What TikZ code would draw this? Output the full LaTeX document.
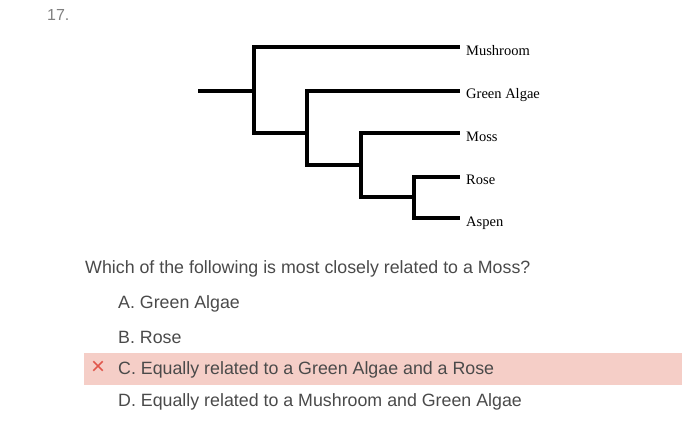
\documentclass[tikz,border=0pt]{standalone}
\usepackage{fontspec}
\setmainfont{Liberation Sans}
\newfontfamily\treefont{Liberation Serif}
\definecolor{txt}{HTML}{4A4A4A}
\definecolor{hl}{HTML}{F5CEC7}
\definecolor{xred}{HTML}{E0554A}
\begin{document}
\begin{tikzpicture}[x=1pt,y=-1pt,
  br/.style={line width=3.2pt,line cap=rect},
  lab/.style={anchor=west,font=\treefont\fontsize{14.5}{16}\selectfont,inner sep=0pt},
  q/.style={anchor=west,font=\fontsize{17.8}{20}\selectfont,text=txt,inner sep=0pt}]
\useasboundingbox (0,0) rectangle (682,438);
% tree
\coordinate (root) at (200,91);
\coordinate (n1) at (254,91);
\node[lab] (mush) at (466,51) {Mushroom};
\node[lab] (alg) at (466,95) {Green Algae};
\node[lab] (moss) at (466,137) {Moss};
\node[lab] (rose) at (466,180) {Rose};
\node[lab] (asp) at (466,223) {Aspen};
\draw[br] (root) -- (n1);
\draw[br] (458,47) -- (254,47) -- (254,133) -- (307,133);
\draw[br] (458,91) -- (307,91) -- (307,165) -- (361,165);
\draw[br] (458,133) -- (361,133) -- (361,197) -- (414,197);
\draw[br] (458,177) -- (414,177) -- (414,218) -- (458,218);
% question
\node[anchor=west,font=\fontsize{16}{18}\selectfont,text=gray,inner sep=0pt] (num) at (47,15) {17.};
\node[q] (qq) at (85,269) {Which of the following is most closely related to a Moss?};
\node[q] (a) at (118,304) {A. Green Algae};
\node[q] (b) at (118,337) {B. Rose};
\fill[hl] (84,353) rectangle (682,385);
\node[q,text=xred,font=\fontsize{24}{24}\selectfont] (x) at (91,368) {×};
\node[q] (c) at (118,370) {C. Equally related to a Green Algae and a Rose};
\node[q] (d) at (118,402) {D. Equally related to a Mushroom and Green Algae};
\end{tikzpicture}
\end{document}
